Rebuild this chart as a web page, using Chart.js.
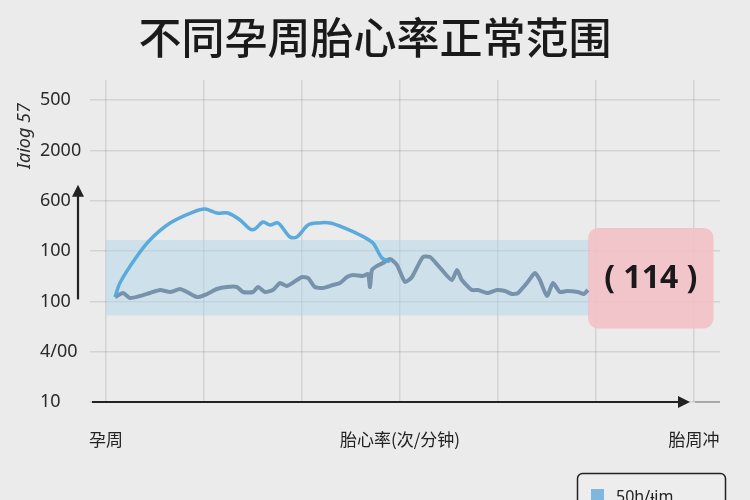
<!DOCTYPE html>
<html lang="zh">
<head>
<meta charset="utf-8">
<title>不同孕周胎心率正常范围</title>
<script src="https://cdn.jsdelivr.net/npm/chart.js@4.4.1/dist/chart.umd.min.js"></script>
<style>
  html, body { margin: 0; padding: 0; background: #ebebeb; }
  #wrap { width: 750px; height: 500px; }
</style>
</head>
<body>
<div id="wrap"><canvas id="chart" width="750" height="500"></canvas></div>
<script>
// texts
const chartTitle = '不同孕周胎心率正常范围';
const yAxisTitle = 'Iaiog 57';
const legendLabel = '50h/ɟim';
const boxLabel = '( 114 )';

// axes
const yTicks = [0, 50, 100, 150, 200, 250, 300];
const yTickLabels = ['10', '4/00', '100', '100', '600', '2000', '500'];
const xTicks = [10, 15, 20, 25, 30, 35, 40];
const xTickLabels = { 10: '孕周', 25: '胎心率(次/分钟)', 40: '胎周冲' };

// normal range band and highlighted box (weeks / bpm)
const bandWeeks = [10, 34.7];
const bandRate = [86, 161];
const boxWeeks = [34.6, 41];
const boxRate = [73, 173];

// upper blue curve
const blueWeeks = [10.46, 10.71, 11.48, 12.24, 13.27, 14.44, 15.05, 15.66, 16.22, 16.84, 17.35, 17.6,
  18.01, 18.37, 18.78, 19.39, 19.74, 20.31, 20.82, 21.43, 22.19, 22.96, 23.62, 24.08, 24.49];
const blueRate = [104.3, 118.3, 142.1, 161, 177.9, 188.8, 191.8, 187.8, 187.8, 180.9, 171.9, 171.9,
  178.9, 175.9, 177.9, 164, 164, 175.9, 177.9, 177.9, 172.9, 166, 158, 143.1, 139.1];

// lower grey curve
const greyWeeks = [10.46, 10.87, 11.22, 11.73, 12.24, 12.76, 13.27, 13.78, 14.13, 14.64, 15.15, 15.66,
  16.17, 16.68, 16.99, 17.5, 17.76, 18.11, 18.52, 18.88, 19.23, 19.74, 20, 20.31, 20.66, 21.07, 21.58,
  21.94, 22.3, 22.6, 23.11, 23.37, 23.47, 23.57, 23.83, 24.13, 24.49, 24.85, 25.26, 25.61, 26.17, 26.53,
  26.79, 27.14, 27.65, 27.91, 28.16, 28.67, 28.98, 29.49, 29.95, 30.36, 30.71, 31.02, 31.48, 31.89,
  32.14, 32.5, 32.81, 33.16, 33.52, 34.08, 34.39, 34.59];
const greyRate = [104.3, 108.3, 103.4, 105.3, 108.3, 111.3, 109.3, 112.3, 109.3, 104.3, 107.3, 112.3,
  114.3, 114.3, 109.3, 109.3, 114.3, 109.3, 111.3, 118.3, 115.3, 121.2, 124.2, 123.2, 114.3, 113.3, 116.3,
  118.3, 124.2, 126.2, 125.2, 127.2, 114.3, 131.2, 135.2, 138.1, 142.1, 136.1, 119.3, 124.2, 144.1, 144.1,
  139.1, 131.2, 121.2, 131.2, 121.2, 111.3, 111.3, 108.3, 111.3, 110.3, 107.3, 108.3, 118.3, 128.2,
  121.2, 105.3, 118.3, 109.3, 110.3, 109.3, 107.3, 111.3];

const toPoints = (xs, ys) => xs.map((x, i) => ({ x: x, y: ys[i] }));

function roundRect(ctx, x, y, w, h, r) {
  ctx.beginPath();
  ctx.moveTo(x + r, y);
  ctx.arcTo(x + w, y, x + w, y + h, r);
  ctx.arcTo(x + w, y + h, x, y + h, r);
  ctx.arcTo(x, y + h, x, y, r);
  ctx.arcTo(x, y, x + w, y, r);
  ctx.closePath();
}

const decorations = {
  id: 'decorations',
  beforeDatasetsDraw(chart) {
    const { ctx, scales: { x, y } } = chart;
    ctx.save();
    // normal range band
    ctx.fillStyle = 'rgba(170, 212, 232, 0.45)';
    const bx = x.getPixelForValue(bandWeeks[0]);
    const by = y.getPixelForValue(bandRate[1]);
    ctx.fillRect(bx, by, x.getPixelForValue(bandWeeks[1]) - bx, y.getPixelForValue(bandRate[0]) - by);
    // highlighted box
    const px = x.getPixelForValue(boxWeeks[0]);
    const py = y.getPixelForValue(boxRate[1]);
    const pw = x.getPixelForValue(boxWeeks[1]) - px;
    const ph = y.getPixelForValue(boxRate[0]) - py;
    ctx.fillStyle = 'rgba(242, 190, 196, 0.85)';
    roundRect(ctx, px, py, pw, ph, 10);
    ctx.fill();
    ctx.fillStyle = '#1a1a1a';
    ctx.font = 'bold 32px "Noto Sans", "DejaVu Sans", sans-serif';
    ctx.textAlign = 'center';
    ctx.textBaseline = 'middle';
    ctx.fillText(boxLabel, px + pw / 2, py + ph / 2 + 1);
    ctx.restore();
  },
  afterDraw(chart) {
    const { ctx, chartArea, scales: { x, y } } = chart;
    ctx.save();
    // title
    ctx.fillStyle = '#1a1a1a';
    ctx.font = '500 43px "Noto Sans CJK SC", sans-serif';
    ctx.textAlign = 'center';
    ctx.textBaseline = 'middle';
    ctx.fillText(chartTitle, chart.width / 2, 38);

    // rotated y title
    ctx.save();
    ctx.translate(25, 136);
    ctx.rotate(-Math.PI / 2);
    ctx.font = 'italic 18px "Noto Sans", sans-serif';
    ctx.fillStyle = '#2a2a2a';
    ctx.fillText(yAxisTitle, 0, 0);
    ctx.restore();

    // arrows
    ctx.strokeStyle = '#222';
    ctx.fillStyle = '#222';
    ctx.lineWidth = 2.2;
    const ax = chartArea.left - 28;
    const yTop = y.getPixelForValue(216);
    ctx.beginPath();
    ctx.moveTo(ax, y.getPixelForValue(102));
    ctx.lineTo(ax, yTop + 10);
    ctx.stroke();
    ctx.beginPath();
    ctx.moveTo(ax, yTop);
    ctx.lineTo(ax - 6, yTop + 12);
    ctx.lineTo(ax + 6, yTop + 12);
    ctx.closePath();
    ctx.fill();

    const y0 = y.getPixelForValue(0);
    const xTip = x.getPixelForValue(39.8);
    ctx.beginPath();
    ctx.moveTo(chartArea.left - 14, y0);
    ctx.lineTo(xTip - 10, y0);
    ctx.stroke();
    ctx.beginPath();
    ctx.moveTo(xTip, y0);
    ctx.lineTo(xTip - 12, y0 - 6);
    ctx.lineTo(xTip - 12, y0 + 6);
    ctx.closePath();
    ctx.fill();
    ctx.strokeStyle = '#888';
    ctx.lineWidth = 1.2;
    ctx.beginPath();
    ctx.moveTo(xTip + 5, y0);
    ctx.lineTo(chartArea.right, y0);
    ctx.stroke();

    // legend box
    ctx.fillStyle = '#ededed';
    ctx.strokeStyle = '#222';
    ctx.lineWidth = 1.5;
    roundRect(ctx, 577.5, 473.5, 148, 40, 5);
    ctx.fill();
    ctx.stroke();
    ctx.fillStyle = '#80b7de';
    ctx.fillRect(591, 489, 13, 13);
    ctx.fillStyle = '#222';
    ctx.font = '16px "Noto Sans", sans-serif';
    ctx.textAlign = 'left';
    ctx.textBaseline = 'alphabetic';
    ctx.fillText(chart.data.datasets[0].label, 616, 502);
    ctx.restore();
  }
};

new Chart(document.getElementById('chart'), {
  type: 'line',
  data: {
    datasets: [
      {
        label: legendLabel,
        data: toPoints(blueWeeks, blueRate),
        borderColor: 'rgba(82, 168, 218, 0.95)',
        borderWidth: 3.5,
        tension: 0.3,
        pointRadius: 0
      },
      {
        label: 'grey',
        data: toPoints(greyWeeks, greyRate),
        borderColor: 'rgba(112, 138, 165, 0.9)',
        borderWidth: 4,
        tension: 0.2,
        pointRadius: 0
      }
    ]
  },
  options: {
    responsive: false,
    animation: false,
    layout: { padding: { top: 80, left: 40, right: 30, bottom: 0 } },
    plugins: {
      legend: { display: false },
      tooltip: { enabled: false }
    },
    scales: {
      x: {
        type: 'linear',
        min: 10,
        max: 41.33,
        afterBuildTicks: (scale) => { scale.ticks = xTicks.map(v => ({ value: v })); },
        afterFit: (scale) => { scale.height = 98; },
        border: { display: false },
        grid: { color: 'rgba(0,0,0,0.1)', lineWidth: 1.5, drawTicks: false },
        ticks: {
          autoSkip: false,
          maxRotation: 0,
          padding: 27,
          color: '#222',
          font: { size: 17, family: '"Noto Sans CJK SC", sans-serif' },
          callback: (value) => xTickLabels[value] || ''
        }
      },
      y: {
        min: 0,
        max: 320,
        afterBuildTicks: (scale) => { scale.ticks = yTicks.map(v => ({ value: v })); },
        afterFit: (scale) => { scale.width = 66; },
        border: { display: false },
        grid: { color: 'rgba(0,0,0,0.1)', lineWidth: 1.5, tickLength: 16 },
        ticks: {
          crossAlign: 'far',
          color: '#2a2a2a',
          font: { size: 18, family: '"Noto Sans", sans-serif' },
          callback: (value) => yTickLabels[yTicks.indexOf(value)]
        }
      }
    }
  },
  plugins: [decorations]
});
</script>
</body>
</html>
